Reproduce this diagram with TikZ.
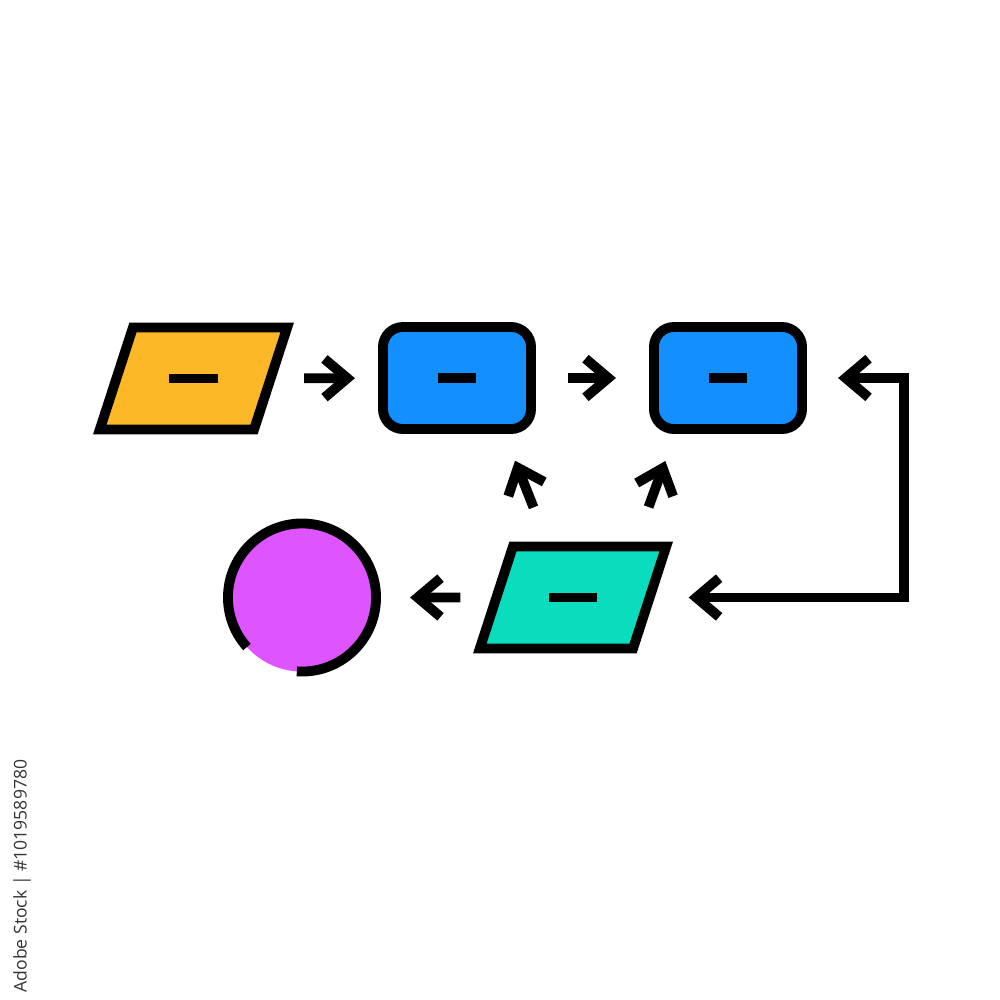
\documentclass[tikz,border=0pt]{standalone}
\usepackage{fontspec}
\newfontfamily\stockfont{Open Sans}
\usetikzlibrary{positioning,shapes.geometric,arrows.meta}
\definecolor{flowyellow}{HTML}{FDB827}
\definecolor{flowblue}{HTML}{148FFF}
\definecolor{flowteal}{HTML}{0ADDBE}
\definecolor{flowpink}{HTML}{DE55FF}
\newcommand{\flowbar}[1]{\rule{#1}{0.095cm}}
\tikzset{
  para/.style ={trapezium, trapezium left angle=72, trapezium right angle=108,
                draw=black, line width=2.8pt, inner xsep=0.36cm, inner ysep=0.4625cm, outer sep=0pt},
  blk/.style  ={rectangle, rounded corners=0.2cm, draw=black, line width=2.8pt,
                minimum width=1.48cm, minimum height=1.02cm, inner sep=0pt, outer sep=0pt},
  term/.style ={circle, minimum size=1.48cm, inner sep=0pt, outer sep=0pt},
  ring/.style ={draw=black, line width=2.8pt},
  e/.style    ={-{Straight Barb[sharp, length=6.5pt, width=11pt]}, line width=2.8pt},
  ee/.style   ={{Straight Barb[sharp, length=6.5pt, width=11pt]}-{Straight Barb[sharp, length=6.5pt, width=11pt]}, line width=2.8pt},
  wm/.style   ={font=\stockfont\fontsize{5pt}{6pt}\selectfont, text=black!80, inner sep=0pt},
}

\begin{document}
\begin{tikzpicture}[x=0.01cm, y=-0.01cm]
\useasboundingbox (0,0) rectangle (1000,1000);
%% ---------- top row ----------
\node[para, fill=flowyellow] (inp) at (193.5,378.5) {\flowbar{0.49cm}};
\node[blk, fill=flowblue]    (pa)  at (457,378)     {\flowbar{0.38cm}};
\node[blk, fill=flowblue]    (pb)  at (728,378)     {\flowbar{0.38cm}\hspace{0.19cm}};
%% ---------- bottom row ----------
\node[para, fill=flowteal]   (src) at (573,597.5)   {\flowbar{0.48cm}};
\node[term, fill=flowpink]   (out) at (302,597.5)   {};
% open ring round the end node
\draw[ring] (out.266) arc[start angle=266, end angle=582, radius=0.74cm];
%% ---------- connectors ----------
\draw[e, shorten <=0.335cm, shorten >=0.28cm] (inp) -- (pa);
\draw[e, shorten <=0.37cm, shorten >=0.38cm] (pa) -- (pb);
\draw[e, shorten <=0.36cm, shorten >=0.34cm] (src) -- (out);
\draw[e, shorten <=0.42cm, shorten >=0.34cm] ([xshift=0.36cm]src.top left corner) -- ([xshift=0.455cm]pa.south);
\draw[e, shorten <=0.42cm, shorten >=0.34cm] ([xshift=-0.32cm]src.top right corner) -- ([xshift=-0.51cm]pb.south);
\draw[ee, shorten <=0.36cm, shorten >=0.39cm] (pb.east) -- ++(102,0) |- (src);
%% ---------- side id ----------
\node[wm, rotate=90, anchor=west] (stockid) at (22,993) {Adobe Stock | \#1019589780};
\end{tikzpicture}
\end{document}
